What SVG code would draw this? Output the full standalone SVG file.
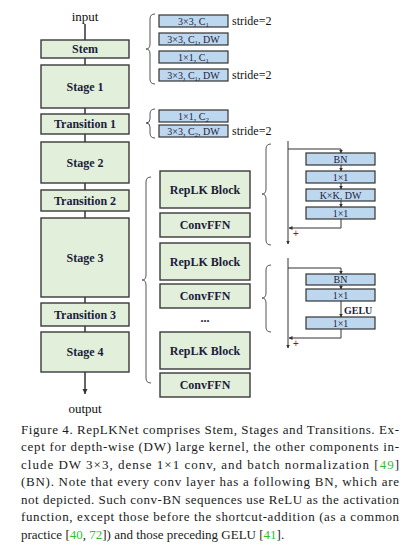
<svg xmlns="http://www.w3.org/2000/svg" width="410" height="554" viewBox="0 0 410 554">
<style>
.g{fill:#e2efda;stroke:#3a3a3a;stroke-width:1.4}
.b{fill:#bdd7ee;stroke:#333;stroke-width:1.2}
.lb{font-family:"Liberation Serif",serif;font-weight:bold;font-size:12px;fill:#1c1c3c;text-anchor:middle}
.sm{font-family:"Liberation Serif",serif;font-size:10px;fill:#1c1c3c;text-anchor:middle}
.st{font-family:"Liberation Serif",serif;font-size:12px;fill:#111}
.io{font-family:"Liberation Serif",serif;font-size:13px;fill:#111;text-anchor:middle}
.cap{font-family:"Liberation Serif",serif;font-size:13px;fill:#1a1a1a}
.cit{fill:#2fbf2f}
.ln{stroke:#555;stroke-width:1.8;fill:none}
.dl{stroke:#333;stroke-width:1;fill:none}
.br{stroke:#555;stroke-width:1;fill:none}
</style>
<defs>
<marker id="ah" markerWidth="6" markerHeight="6" refX="5" refY="3" orient="auto" markerUnits="userSpaceOnUse"><path d="M0,0.5 L5,3 L0,5.5 z" fill="#333"/></marker>
<marker id="ahs" markerWidth="4" markerHeight="4" refX="3.5" refY="2" orient="auto" markerUnits="userSpaceOnUse"><path d="M0,0 L4,2 L0,4 z" fill="#333"/></marker>
</defs>

<g id="connectors">
<line class="ln" x1="85" y1="24" x2="85" y2="40"/>
<line class="ln" x1="85" y1="58" x2="85" y2="65"/>
<line class="ln" x1="85" y1="108" x2="85" y2="114"/>
<line class="ln" x1="85" y1="134" x2="85" y2="142"/>
<line class="ln" x1="85" y1="183" x2="85" y2="190"/>
<line class="ln" x1="85" y1="211" x2="85" y2="218"/>
<line class="ln" x1="85" y1="297" x2="85" y2="303"/>
<line class="ln" x1="85" y1="326" x2="85" y2="332"/>
<line class="ln" x1="85" y1="372" x2="85" y2="394" marker-end="url(#ah)"/>
<!-- braces -->
<path class="br" d="M155,14 Q150,14 150,19 L150,44 Q150,49 146,49 Q150,49 150,54 L150,79 Q150,84 155,84"/>
<path class="br" d="M155,109 Q150,109 150,114 L150,119 Q150,123 146,123 Q150,123 150,127 L150,133 Q150,138 155,138"/>
<path class="br" d="M151,177 Q146,177 146,182 L146,275 Q146,280 142,280 Q146,280 146,285 L146,378 Q146,383 151,383"/>
<path class="br" d="M271,144 Q266,144 266,149 L266,189 Q266,194 262,194 Q266,194 266,199 L266,240 Q266,245 271,245"/>
<path class="br" d="M271,265 Q266,265 266,270 L266,293 Q266,298 262,298 Q266,298 266,303 L266,327 Q266,332 271,332"/>
<!-- RepLK detail -->
<line class="dl" x1="288" y1="141" x2="288" y2="244" marker-end="url(#ahs)"/>
<polyline class="dl" points="288,149 341,149 341,153" marker-end="url(#ahs)"/>
<line class="dl" x1="341" y1="165" x2="341" y2="171" marker-end="url(#ahs)"/>
<line class="dl" x1="341" y1="183" x2="341" y2="189" marker-end="url(#ahs)"/>
<line class="dl" x1="341" y1="201" x2="341" y2="207" marker-end="url(#ahs)"/>
<polyline class="dl" points="341,219 341,228 289,228" marker-end="url(#ahs)"/>
<!-- ConvFFN detail -->
<line class="dl" x1="288" y1="258" x2="288" y2="348" marker-end="url(#ahs)"/>
<polyline class="dl" points="288,268 341,268 341,274" marker-end="url(#ahs)"/>
<line class="dl" x1="341" y1="285" x2="341" y2="289" marker-end="url(#ahs)"/>
<line class="dl" x1="341" y1="301" x2="341" y2="317" marker-end="url(#ahs)"/>
<polyline class="dl" points="341,329 341,338 289,338" marker-end="url(#ahs)"/>
</g>

<text class="io" x="85" y="21">input</text>
<text class="io" x="85" y="413">output</text>

<g id="stem"><rect class="g" x="41" y="40" width="88" height="18"/><text class="lb" x="85" y="53">Stem</text></g>
<g id="stage1"><rect class="g" x="41" y="65" width="88" height="43"/><text class="lb" x="85" y="91">Stage 1</text></g>
<g id="transition1"><rect class="g" x="41" y="114" width="88" height="20"/><text class="lb" x="85" y="128">Transition 1</text></g>
<g id="stage2"><rect class="g" x="41" y="142" width="88" height="41"/><text class="lb" x="85" y="167">Stage 2</text></g>
<g id="transition2"><rect class="g" x="41" y="190" width="88" height="21"/><text class="lb" x="85" y="205">Transition 2</text></g>
<g id="stage3"><rect class="g" x="41" y="218" width="88" height="79"/><text class="lb" x="85" y="262">Stage 3</text></g>
<g id="transition3"><rect class="g" x="41" y="303" width="88" height="23"/><text class="lb" x="85" y="319">Transition 3</text></g>
<g id="stage4"><rect class="g" x="41" y="332" width="88" height="40"/><text class="lb" x="85" y="356">Stage 4</text></g>

<g id="stem-detail">
<rect class="b" x="159" y="15" width="69" height="12"/><text class="sm" x="193.5" y="24.5">3×3, C<tspan font-size="7" dy="2">1</tspan></text>
<rect class="b" x="159" y="33" width="69" height="12"/><text class="sm" x="193.5" y="42.5">3×3, C<tspan font-size="7" dy="2">1</tspan><tspan dy="-2">, DW</tspan></text>
<rect class="b" x="159" y="51" width="69" height="12"/><text class="sm" x="193.5" y="60.5">1×1, C<tspan font-size="7" dy="2">1</tspan></text>
<rect class="b" x="159" y="69" width="69" height="12"/><text class="sm" x="193.5" y="78.5">3×3, C<tspan font-size="7" dy="2">1</tspan><tspan dy="-2">, DW</tspan></text>
<text class="st" x="232" y="25">stride=2</text>
<text class="st" x="232" y="79">stride=2</text>
</g>
<g id="transition-detail">
<rect class="b" x="159" y="110" width="69" height="12"/><text class="sm" x="193.5" y="119.5">1×1, C<tspan font-size="7" dy="2">2</tspan></text>
<rect class="b" x="159" y="125" width="69" height="12"/><text class="sm" x="193.5" y="134.5">3×3, C<tspan font-size="7" dy="2">2</tspan><tspan dy="-2">, DW</tspan></text>
<text class="st" x="232" y="135">stride=2</text>
</g>

<g id="replk1"><rect class="g" x="160" y="171" width="90" height="37"/><text class="lb" font-size="12.5" x="205" y="194">RepLK Block</text></g>
<g id="convffn1"><rect class="g" x="160" y="213" width="90" height="24"/><text class="lb" x="205" y="229">ConvFFN</text></g>
<g id="replk2"><rect class="g" x="160" y="243" width="90" height="37"/><text class="lb" font-size="12.5" x="205" y="266">RepLK Block</text></g>
<g id="convffn2"><rect class="g" x="160" y="284" width="90" height="24"/><text class="lb" x="205" y="300">ConvFFN</text></g>
<text class="lb" font-weight="normal" x="205" y="322">...</text>
<g id="replk3"><rect class="g" x="160" y="332" width="90" height="37"/><text class="lb" font-size="12.5" x="205" y="355">RepLK Block</text></g>
<g id="convffn3"><rect class="g" x="160" y="373" width="90" height="24"/><text class="lb" x="205" y="389">ConvFFN</text></g>

<g id="replk-detail">
<rect class="b" x="306" y="153" width="69" height="12"/><text class="sm" x="340.5" y="162.5">BN</text>
<rect class="b" x="306" y="171" width="69" height="12"/><text class="sm" x="340.5" y="180.5">1×1</text>
<rect class="b" x="306" y="189" width="69" height="12"/><text class="sm" x="340.5" y="198.5">K×K, DW</text>
<rect class="b" x="306" y="207" width="69" height="12"/><text class="sm" x="340.5" y="216.5">1×1</text>
<text x="296" y="237" font-family="Liberation Sans,sans-serif" font-size="10" fill="#c00000" text-anchor="middle">+</text>
</g>
<g id="convffn-detail">
<rect class="b" x="306" y="274" width="69" height="11"/><text class="sm" x="340.5" y="283">BN</text>
<rect class="b" x="306" y="289" width="69" height="12"/><text class="sm" x="340.5" y="298.5">1×1</text>
<text x="344" y="314" font-family="Liberation Serif,serif" font-weight="bold" font-size="10" fill="#1c1c3c">GELU</text>
<rect class="b" x="306" y="317" width="69" height="12"/><text class="sm" x="340.5" y="326.5">1×1</text>
<text x="296" y="347" font-family="Liberation Sans,sans-serif" font-size="10" fill="#c00000" text-anchor="middle">+</text>
</g>

<g id="caption">
<text class="cap" x="21" y="434" textLength="378" lengthAdjust="spacing">Figure 4. RepLKNet comprises Stem, Stages and Transitions. Ex-</text>
<text class="cap" x="21" y="451" textLength="378" lengthAdjust="spacing">cept for depth-wise (DW) large kernel, the other components in-</text>
<text class="cap" x="21" y="469" textLength="378" lengthAdjust="spacing">clude DW 3×3, dense 1×1 conv, and batch normalization [<tspan class="cit">49</tspan>]</text>
<text class="cap" x="21" y="486" textLength="378" lengthAdjust="spacing">(BN). Note that every conv layer has a following BN, which are</text>
<text class="cap" x="21" y="504" textLength="378" lengthAdjust="spacing">not depicted. Such conv-BN sequences use ReLU as the activation</text>
<text class="cap" x="21" y="521" textLength="378" lengthAdjust="spacing">function, except those before the shortcut-addition (as a common</text>
<text class="cap" x="21" y="539">practice [<tspan class="cit">40</tspan>, <tspan class="cit">72</tspan>]) and those preceding GELU [<tspan class="cit">41</tspan>].</text>
</g>
</svg>
